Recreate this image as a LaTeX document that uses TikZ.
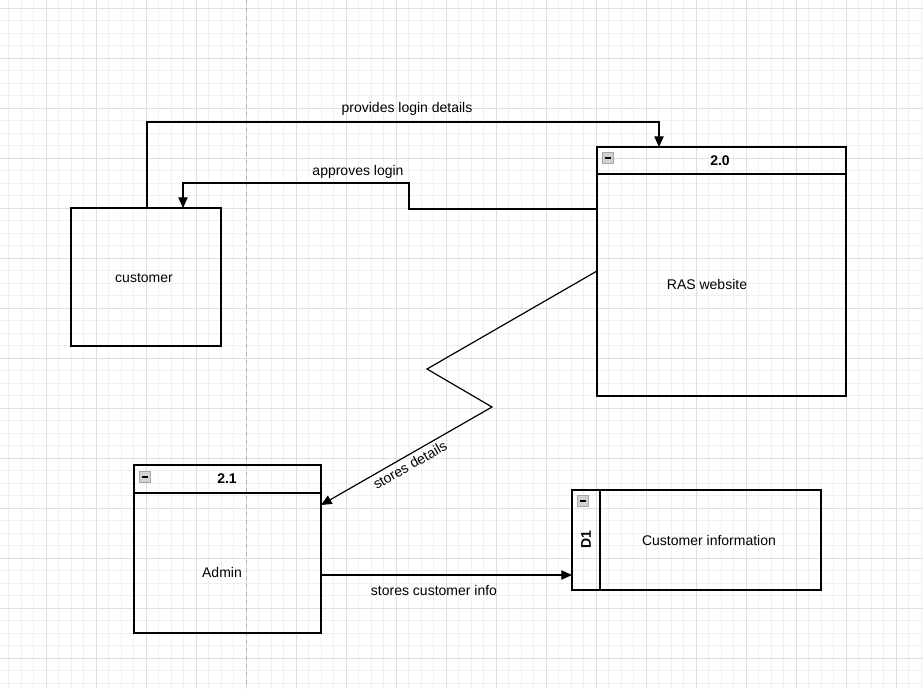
\documentclass[tikz,border=0pt]{standalone}
\usepackage{fontspec}
\setmainfont{Liberation Sans}
\usetikzlibrary{arrows.meta}
\begin{document}
\begin{tikzpicture}[x=0.75pt,y=-0.75pt,
  box/.style={draw,line width=0.9pt,fill=none},
  lbl/.style={font=\fontsize{10.5}{12}\selectfont,inner sep=1pt},
  flow/.style={draw,line width=0.9pt,-{Triangle[length=8pt,width=7pt]}},
  icon/.style={draw=gray!70,fill=gray!35,minimum size=8.5pt,inner sep=0pt,line width=0.5pt}]
\useasboundingbox (0,0) rectangle (923,688);
\fill[white] (0,0) rectangle (923,688);
\foreach \i in {0,...,75} {\draw[gray!12,line width=0.5pt] ({-4+12.5*\i},0) -- ({-4+12.5*\i},688);}
\foreach \i in {0,...,56} {\draw[gray!12,line width=0.5pt] (0,{8+12.5*\i}) -- (923,{8+12.5*\i});}
\foreach \i in {0,...,18} {\draw[gray!25,line width=0.5pt] ({46+50*\i},0) -- ({46+50*\i},688);}
\foreach \i in {0,...,14} {\draw[gray!25,line width=0.5pt] (0,{8+50*\i}) -- (923,{8+50*\i});}
\draw[gray!60,dashed,line width=0.6pt] (246,0) -- (246,688);
% customer
\draw[box] (71,208) rectangle (221,346);
\node[lbl] (cust) at (144,278) {customer};
\coordinate (custA) at (147,208);
\coordinate (custB) at (183,208);
% 2.0
\draw[box] (597,147) rectangle (846,396);
\draw[line width=0.9pt] (597,174) -- (846,174);
\node[icon] (i20) at (608,158) {\rule{5pt}{0.8pt}};
\node[lbl,font=\fontsize{10.5}{12}\selectfont\bfseries] (h20) at (720,161) {2.0};
\node[lbl] (ras) at (707,284) {RAS website};
\coordinate (rasTop) at (659,147);
\coordinate (rasL1) at (597,209);
\coordinate (rasL2) at (597,271);
% 2.1
\draw[box] (134,465) rectangle (321,633);
\draw[line width=0.9pt] (134,493) -- (321,493);
\node[icon] (i21) at (145,477) {\rule{5pt}{0.8pt}};
\node[lbl,font=\fontsize{10.5}{12}\selectfont\bfseries] (h21) at (227,479) {2.1};
\node[lbl] (admin) at (222,572) {Admin};
\coordinate (admR1) at (321,505);
\coordinate (admR2) at (321,575);
% D1
\draw[box] (572,490) rectangle (821,590);
\draw[line width=0.9pt] (600,490) -- (600,590);
\node[icon] (id1) at (583,501) {\rule{5pt}{0.8pt}};
\node[lbl,rotate=90,font=\fontsize{10.5}{12}\selectfont\bfseries] (d1) at (586,540) {D1};
\node[lbl] (ci) at (709,540) {Customer information};
\coordinate (d1L) at (572,575);
% flows
\draw[flow] (custA) -- (147,122) -- (659,122) -- (rasTop);
\node[lbl] (l1) at (407,109) {provides login details};
\draw[flow] (rasL1) -- (409,209) -- (409,183) -- (183,183) -- (custB);
\node[lbl] (l2) at (358,172) {approves login};
\draw[flow] (rasL2) -- (427,369) -- (492,407) -- (admR1);
\node[lbl,rotate=30] (l3) at (410,465) {stores details};
\draw[flow] (admR2) -- (d1L);
\node[lbl] (l4) at (434,590) {stores customer info};
\end{tikzpicture}
\end{document}
